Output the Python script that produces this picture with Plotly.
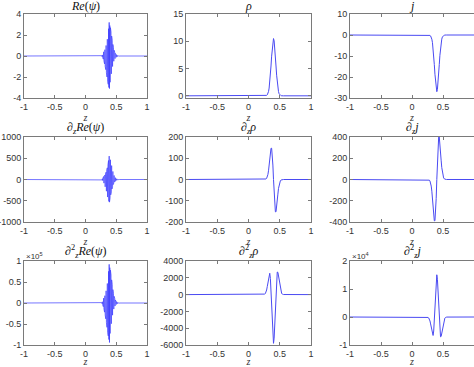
import plotly.graph_objects as go

# ---------------- data ----------------
z_osc = [-1.0, 0.265, 0.270, 0.275, 0.280, 0.285, 0.290, 0.295, 0.300, 0.305, 0.310,
         0.315, 0.320, 0.325, 0.330, 0.335, 0.340, 0.345, 0.350, 0.355, 0.360,
         0.365, 0.370, 0.375, 0.380, 0.385, 0.390, 0.395, 0.400, 0.405, 0.410,
         0.415, 0.420, 0.425, 0.430, 0.435, 0.440, 0.445, 0.450, 0.455, 0.460,
         0.465, 0.470, 0.475, 0.480, 0.485, 0.490, 0.495, 0.500, 0.505, 0.510,
         0.515, 0.520, 0.525, 0.530, 0.535, 0.540, 0.545, 0.550, 0.555, 1.0]

re_psi = [0.0, 0.03, -0.06, 0.10, -0.15, 0.22, -0.30, 0.40, -0.50, 0.45, -0.75,
          0.60, -1.0, 0.80, -1.3, 1.0, -1.6, 1.3, -2.0, 1.6, -2.4,
          2.0, -2.7, 2.6, -3.0, 3.2, -3.1, 2.9, -2.5, 2.7, -2.1,
          2.3, -1.7, 1.9, -1.3, 1.5, -1.0, 1.1, -0.7, 0.8, -0.5,
          0.55, -0.35, 0.38, -0.25, 0.25, -0.18, 0.15, -0.12, 0.10, -0.08,
          0.06, -0.05, 0.04, -0.03, 0.02, -0.02, 0.01, -0.01, 0.0, 0.0]

dz_re_psi = [0, 5, -10, 17, -26, 38, -52, 69, -86, 77, -129,
             103, -172, 138, -224, 172, -275, 224, -344, 275, -413,
             344, -464, 447, -516, 550, -533, 499, -430, 464, -361,
             396, -292, 327, -224, 258, -172, 189, -120, 138, -86,
             95, -60, 65, -43, 43, -31, 26, -21, 17, -14,
             10, -9, 7, -5, 3, -3, 2, -2, 0, 0]

dz2_re_psi = [0, 900, -1700, 2900, -4400, 6400, -8700, 11600, -14500, 13000, -21800,
              17400, -29000, 23200, -37700, 29000, -46400, 37700, -58000, 46400, -69600,
              58000, -78300, 75400, -87000, 92000, -94000, 84100, -72500, 78300, -60900,
              66700, -49300, 55100, -37700, 43500, -29000, 31900, -20300, 23200, -14500,
              16000, -10200, 11000, -7300, 7300, -5200, 4400, -3500, 2900, -2300,
              1700, -1500, 1200, -900, 600, -600, 300, -300, 0, 0]

z_s = [-1.0, 0.24, 0.25, 0.26, 0.27, 0.28, 0.29, 0.30, 0.31, 0.32, 0.33, 0.34,
       0.35, 0.36, 0.37, 0.38, 0.39, 0.40, 0.41, 0.42, 0.43, 0.44, 0.45, 0.46,
       0.47, 0.48, 0.49, 0.50, 0.51, 0.52, 0.53, 0.54, 0.55, 0.56, 1.0]

rho = [0, 0, 0, 0, 0.01, 0.03, 0.08, 0.18, 0.38, 0.77, 1.42, 2.41, 3.78, 5.47,
       7.27, 8.91, 10.08, 10.5, 10.08, 8.91, 7.27, 5.47, 3.78, 2.41, 1.42, 0.77,
       0.38, 0.18, 0.08, 0.03, 0.01, 0, 0, 0, 0]

j = [0, 0, 0, 0, -0.03, -0.07, -0.2, -0.45, -0.98, -1.98, -3.65, -6.2, -9.7, -14.1,
     -18.7, -22.9, -25.9, -27.0, -25.9, -22.9, -18.7, -14.1, -9.7, -6.2, -3.65, -1.98,
     -0.98, -0.45, -0.2, -0.07, -0.03, 0, 0, 0, 0]

dz_rho = [0, 0.05, 0.12, 0.33, 0.9, 2.4, 5.5, 12, 23, 41, 67, 98, 127, 147,
          147, 120, 68, 0, -70, -124, -152, -152, -131, -101, -69, -42,
          -24, -12, -5.7, -2.5, -0.9, -0.34, -0.12, -0.05, 0]

dz_j = [0, -0.1, -0.3, -0.9, -2.4, -6.3, -14.6, -32, -62, -110, -177, -258, -337, -389,
        -388, -318, -180, 0, 185, 327, 399, 400, 346, 265, 182, 113,
        64, 33, 15, 6.5, 2.5, 0.9, 0.3, 0.1, 0]

dz2_rho = [0, 9, 24, 60, 138, 287, 547, 951, 1481, 2059, 2498, 2538, 1922, 546,
           -1432, -3548, -5184, -5800, -5184, -3548, -1432, 580, 2040, 2690, 2650, 2180,
           1570, 1010, 580, 305, 146, 64, 25, 10, 0]

dz2_j = [0, -23, -62, -156, -359, -746, -1422, -2473, -3850, -5353, -6495, -6600, -4997, -1420,
         3723, 9225, 13480, 15080, 13480, 9225, 3723, -1520, -5350, -7060, -6950, -5730,
         -4120, -2650, -1520, -800, -384, -167, -66, -25, 0]

titles = [
    "<i>Re</i>(<i>ψ</i>)", "<i>ρ</i>", "<i>j</i>",
    "∂<sub><i>z</i></sub><i>Re</i>(<i>ψ</i>)", "∂<sub><i>z</i></sub><i>ρ</i>", "∂<sub><i>z</i></sub><i>j</i>",
    "∂<sup>2</sup><sub><i>z</i></sub><i>Re</i>(<i>ψ</i>)", "∂<sup>2</sup><sub><i>z</i></sub><i>ρ</i>",
    "∂<sup>2</sup><sub><i>z</i></sub><i>j</i>",
]

x_ticks = [-1, -0.5, 0, 0.5, 1]
x_tick_text = ["-1", "-0.5", "0", "0.5", "1"]

y_ranges = [[-4, 4], [-0.4, 15], [-30, 10],
            [-1000, 1000], [-200, 200], [-400, 400],
            [-1e5, 1e5], [-6000, 4000], [-1e4, 2e4]]
y_ticks = [[-4, -2, 0, 2, 4], [0, 5, 10, 15], [-30, -20, -10, 0, 10],
           [-1000, -500, 0, 500, 1000], [-200, -100, 0, 100, 200], [-400, -200, 0, 200, 400],
           [-1e5, -5e4, 0, 5e4, 1e5], [-6000, -4000, -2000, 0, 2000, 4000], [-1e4, 0, 1e4, 2e4]]
y_tick_text = [["-4", "-2", "0", "2", "4"], ["0", "5", "10", "15"], ["-30", "-20", "-10", "0", "10"],
               ["-1000", "-500", "0", "500", "1000"], ["-200", "-100", "0", "100", "200"],
               ["-400", "-200", "0", "200", "400"],
               ["-1", "-0.5", "0", "0.5", "1"], ["-6000", "-4000", "-2000", "0", "2000", "4000"],
               ["-1", "0", "1", "2"]]
exponents = [None, None, None, None, None, None, "5", None, "4"]

series = [(z_osc, re_psi), (z_s, rho), (z_s, j),
          (z_osc, dz_re_psi), (z_s, dz_rho), (z_s, dz_j),
          (z_osc, dz2_re_psi), (z_s, dz2_rho), (z_s, dz2_j)]

# ---------------- layout geometry ----------------
W, H = 474, 367
col_px = [(24, 147), (186, 311), (350, 474)]
row_px = [(14, 98), (137, 222), (261, 345)]

fig = go.Figure()
axcol = "#7a7a7a"
tickfont = dict(family="Liberation Sans, Arial, sans-serif", size=9, color="#333333")
annotations = []

for i in range(9):
    r, c = divmod(i, 3)
    n = i + 1
    xa = "x" if n == 1 else f"x{n}"
    ya = "y" if n == 1 else f"y{n}"
    xs, ys = series[i]
    osc = xs is z_osc
    fig.add_trace(go.Scatter(x=xs, y=ys, mode="lines", xaxis=xa, yaxis=ya,
                             line=dict(color="#3b3bff" if osc else "#4a4af2", width=0.7 if osc else 1.0),
                             showlegend=False, hoverinfo="skip"))
    x0, x1 = col_px[c]
    yt, yb = row_px[r]
    xd = [x0 / W, min(x1 / W, 1.0)]
    yd = [1 - yb / H, 1 - yt / H]
    common = dict(showgrid=False, zeroline=False, showline=True, linecolor=axcol, linewidth=1,
                  ticks="inside", ticklen=3, tickcolor=axcol, tickwidth=1, tickfont=tickfont,
                  automargin=False)
    fig.layout[("xaxis" if n == 1 else f"xaxis{n}")] = dict(
        domain=xd, anchor=ya, range=[-1, 1], tickvals=x_ticks, ticktext=x_tick_text,
        mirror="ticks",
        title=dict(text="<i>z</i>", font=dict(family="Liberation Serif, serif", size=10, color="#333333"),
                   standoff=0),
        **common)
    fig.layout[("yaxis" if n == 1 else f"yaxis{n}")] = dict(
        domain=yd, anchor=xa, range=y_ranges[i], tickvals=y_ticks[i], ticktext=y_tick_text[i],
        mirror=("ticks" if c < 2 else False), **common)
    annotations.append(dict(text=titles[i], x=(xd[0] + xd[1]) / 2 if c < 2 else (x0 + 62) / W,
                            y=yd[1], xref="paper", yref="paper", xanchor="center", yanchor="bottom",
                            showarrow=False, yshift=-1,
                            font=dict(family="Liberation Serif, serif", size=12, color="#111111")))
    if exponents[i]:
        annotations.append(dict(text="×10<sup>" + exponents[i] + "</sup>", x=xd[0], y=yd[1],
                                xref="paper", yref="paper", xanchor="left", yanchor="bottom",
                                showarrow=False, yshift=-2,
                                font=dict(family="Liberation Sans, Arial, sans-serif", size=8,
                                          color="#333333")))

fig.update_layout(width=W, height=H, margin=dict(l=0, r=0, t=0, b=0),
                  paper_bgcolor="white", plot_bgcolor="white", annotations=annotations)

fig.write_html("out.html", config={"displayModeBar": False},
               post_script="document.body.style.margin='0';document.body.style.overflow='hidden';")
